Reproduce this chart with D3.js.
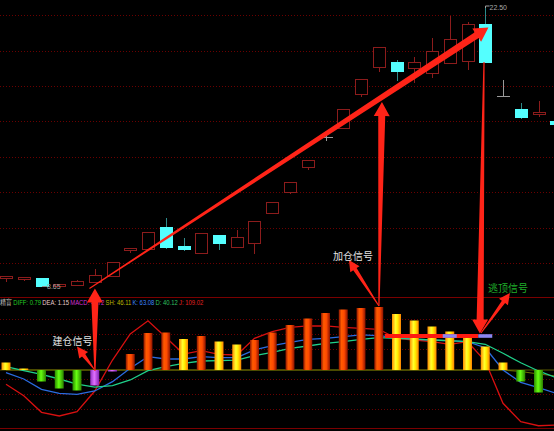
<!DOCTYPE html>
<html>
<head>
<meta charset="utf-8">
<script src="https://cdn.jsdelivr.net/npm/d3@7"></script>
<style>
  body { margin: 0; background: #000; }
  svg { display: block; background: #000; font-family: "Liberation Sans", Arial, sans-serif; }
</style>
</head>
<body>
<svg width="554" height="431"></svg>
<script>
var svg = d3.select("svg"),
    width = +svg.attr("width"),
    height = +svg.attr("height");

// daily candles (price)
var opens  = [9.10, 9.05, 9.10, 8.70, 8.75, 8.90, 9.20, 10.48, 10.53, 11.62, 10.68, 10.33, 11.22, 10.63, 10.83, 12.31,
              13.35, 14.59, 16.07, 16.52, 18.20, 19.53, 19.78, 19.48, 19.24, 19.73, 19.83, 21.66, 18.10, 17.46, 17.21, 16.86];
var highs  = [9.20, 9.15, 9.10, 8.80, 9.00, 9.54, 9.89, 10.58, 11.37, 12.06, 11.08, 11.32, 11.22, 11.47, 11.92, 12.86,
              13.85, 14.93, 16.17, 17.46, 18.94, 20.52, 19.88, 20.03, 20.97, 22.05, 21.76, 22.50, 18.89, 17.75, 17.85, 16.86];
var lows   = [8.90, 8.95, 8.65, 8.70, 8.75, 8.90, 9.20, 10.33, 10.53, 10.53, 10.43, 10.33, 10.48, 10.58, 10.30, 12.31,
              13.25, 14.44, 15.85, 16.52, 18.05, 19.29, 18.84, 18.74, 18.99, 19.73, 19.38, 19.78, 18.10, 16.96, 17.06, 16.71];
var closes = [9.20, 9.15, 8.70, 8.80, 8.95, 9.25, 9.89, 10.58, 11.37, 10.63, 10.53, 11.32, 10.83, 11.13, 11.92, 12.86,
              13.85, 14.93, 16.07, 17.46, 18.94, 20.52, 19.33, 19.78, 20.32, 20.92, 21.66, 19.78, 18.10, 17.06, 17.31, 16.71];

// lower pane: MACD histogram, SH line, KDJ lines
var macd = [0.15, 0.03, -0.23, -0.37, -0.41, -0.31, -0.03, 0.32, 0.74, 0.75, 0.62, 0.68, 0.57, 0.51, 0.60, 0.75,
            0.90, 1.03, 1.14, 1.21, 1.24, 1.26, 1.12, 0.99, 0.87, 0.77, 0.65, 0.47, 0.15, -0.23, -0.45];
var shLine = [0, 0, 0, 0, 0, 0, 0, 0, 0, 0, 0, 0, 0, 0, 0, 0,
              0, 0, 0, 0, 0, 0, 0, 0, 0, 0, 0, 0, 0, -0.03, -0.08, -0.12];
var kLine = [28.4, 20.0, 6.3, 0.9, -0.4, 4.0, 16.4, 34.3, 49.7, 46.7, 46.7, 49.7, 48.4, 48.4, 58.7, 64.4,
             68.9, 72.9, 74.3, 76.4, 78.7, 77.7, 75.1, 73.3, 72.0, 70.7, 69.7, 61.7, 32.0, 15.6, 8.4, 0.9];
var dLine = [36.4, 31.1, 26.3, 20.0, 13.3, 9.3, 11.1, 18.7, 31.1, 36.4, 40.7, 44.0, 44.4, 45.3, 51.1, 55.6,
             60.9, 64.0, 67.6, 69.7, 72.9, 75.1, 74.3, 73.3, 72.0, 71.1, 69.7, 66.3, 54.3, 41.7, 30.7, 21.7];
var jLine = [12.9, -2.3, -24.4, -29.3, -23.6, 4.0, 45.3, 80.0, 97.7, 75.6, 53.3, 57.7, 52.9, 52.0, 74.3, 83.1,
             88.9, 90.7, 90.7, 88.9, 87.6, 86.3, 74.3, 72.0, 69.7, 66.3, 69.7, 44.0, -12.4, -36.9, -42.3, -41.3];

var priceTicks = [9.84, 11.59, 13.34, 15.09, 16.84, 18.59, 20.34, 22.09];
var kdjTicks = [-20, 0, 20, 60, 80, 100];

var legendItems = ["精盲", "DIFF: 0.79", "DEA: 1.15", "MACD: -0.72", "SH: 46.11", "K: 63.08", "D: 40.12", "J: 109.02"];

// hand-drawn signals
var arrows = [
    { size: "big",   from: { i: 4.70,  pane: "price", v: 8.58 },  to: { i: 27.18, pane: "price", v: 21.49 } },
    { size: "big",   from: { i: 5.01,  pane: "macd",  v: -0.02 }, to: { i: 5.01,  pane: "price", v: 8.58 } },
    { size: "small", from: { i: 4.96,  pane: "macd",  v: 0.02 },  to: { i: 4.00,  pane: "macd",  v: 0.47 } },
    { size: "big",   from: { i: 21.01, pane: "macd",  v: 1.28 },  to: { i: 21.18, pane: "price", v: 17.80 } },
    { size: "small", from: { i: 21.01, pane: "macd",  v: 1.28 },  to: { i: 19.32, pane: "price", v: 9.99 } },
    { size: "big",   from: { i: 26.93, pane: "price", v: 19.78 }, to: { i: 26.70, pane: "macd",  v: 0.73 } },
    { size: "small", from: { i: 26.76, pane: "macd",  v: 0.74 },  to: { i: 28.39, pane: "macd",  v: 1.54 } }
];
var signalLabels = [
    { text: "建仓信号", kind: "buy",  at: { i: 3.75,  pane: "macd",  v: 0.60 } },
    { text: "加仓信号", kind: "buy",  at: { i: 19.55, pane: "price", v: 10.21 } },
    { text: "逃顶信号", kind: "sell", at: { i: 28.28, pane: "macd",  v: 1.66 } }
];
var holdBar = { from: 21.35, to: 26.6, v: 0.68 };
var holdMarks = [25, 27];

var pane = { priceBottom: 297, lowerBottom: 428 };

var x = d3.scaleLinear().domain([0, 31]).range([6, 6 + 17.75 * 31]);
var y = d3.scaleLinear().domain([8.65, 22.5]).range([287, 7]);
var ym = d3.scaleLinear().domain([0, 1]).range([370, 320]);
var yk = d3.scaleLinear().domain([-20, 100]).range([409, 319]);

function pt(a) {
    var sy = a.pane === "price" ? y : (a.pane === "macd" ? ym : yk);
    return [x(a.i), sy(a.v)];
}

// gradients for cylinder bars
var defs = svg.append("defs");
var grads = {
    up:   [["0%", "#8a1400"], ["30%", "#ff5a00"], ["60%", "#ff4a00"], ["100%", "#8a1200"]],
    fade: [["0%", "#ff8a00"], ["40%", "#ffff30"], ["62%", "#ffee00"], ["100%", "#ff8000"]],
    down: [["0%", "#2a8a00"], ["45%", "#66ff10"], ["100%", "#2a8000"]],
    rise: [["0%", "#9030c0"], ["45%", "#e070ff"], ["100%", "#8020b0"]]
};
Object.keys(grads).forEach(function (k) {
    var g = defs.append("linearGradient").attr("id", "g-" + k)
        .attr("x1", "0%").attr("x2", "100%").attr("y1", "0%").attr("y2", "0%");
    grads[k].forEach(function (s) { g.append("stop").attr("offset", s[0]).attr("stop-color", s[1]); });
});
defs.append("clipPath").attr("id", "clip-price").append("rect")
    .attr("x", 0).attr("y", 0).attr("width", width).attr("height", pane.priceBottom);
defs.append("clipPath").attr("id", "clip-lower").append("rect")
    .attr("x", 0).attr("y", pane.priceBottom).attr("width", width).attr("height", pane.lowerBottom - pane.priceBottom);

// grids
var priceGrid = svg.append("g")
    .call(d3.axisLeft(y).tickValues(priceTicks).tickSize(-width).tickFormat(""));
priceGrid.select(".domain").remove();
var lowerGrid = svg.append("g")
    .call(d3.axisLeft(yk).tickValues(kdjTicks).tickSize(-width).tickFormat(""));
lowerGrid.select(".domain").remove();
svg.selectAll(".tick line")
    .attr("stroke", "#6a0000")
    .attr("stroke-dasharray", "1,2")
    .attr("shape-rendering", "crispEdges");

svg.append("line").attr("x1", 0).attr("x2", width)
    .attr("y1", pane.priceBottom + 0.5).attr("y2", pane.priceBottom + 0.5)
    .attr("stroke", "#7a0000");
svg.append("line").attr("x1", 0).attr("x2", width)
    .attr("y1", pane.lowerBottom + 0.5).attr("y2", pane.lowerBottom + 0.5)
    .attr("stroke", "#7a0000");

// candles
var candles = svg.append("g").attr("clip-path", "url(#clip-price)");
opens.forEach(function (o, i) {
    var c = closes[i];
    var cx = Math.round(x(i)) + 0.5;
    var col = c > o ? "#8c1c1c" : (c < o ? "#54ffff" : "#9a9a9a");
    var wickCol = c < o ? "#2e8b8b" : col;
    candles.append("line")
        .attr("x1", cx).attr("x2", cx)
        .attr("y1", Math.round(y(highs[i]))).attr("y2", Math.round(y(lows[i])))
        .attr("stroke", wickCol);
    var top = Math.round(y(Math.max(o, c))), bot = Math.round(y(Math.min(o, c)));
    if (c === o) {
        candles.append("line")
            .attr("x1", cx - 6.5).attr("x2", cx + 6.5)
            .attr("y1", top + 0.5).attr("y2", top + 0.5)
            .attr("stroke", col);
    } else {
        candles.append("rect")
            .attr("x", cx - 6).attr("y", top + 0.5)
            .attr("width", 12).attr("height", Math.max(1, bot - top))
            .attr("fill", c > o ? "#000" : col)
            .attr("stroke", col);
    }
});

// extreme price tags
var hiIdx = d3.maxIndex(highs), loIdx = d3.minIndex(lows);
var hx = Math.round(x(hiIdx)) + 0.5, hy = Math.round(y(highs[hiIdx]));
candles.append("path").attr("d", "M" + hx + "," + (hy + 1) + "V" + (hy - 1) + "H" + (hx + 4))
    .attr("fill", "none").attr("stroke", "#a0a0a0");
candles.append("text").attr("x", hx + 4).attr("y", hy + 3)
    .attr("font-size", 7).attr("fill", "#a8a8a8").text(d3.format(".2f")(highs[hiIdx]));
var lx = Math.round(x(loIdx)), ly = Math.round(y(lows[loIdx]));
candles.append("path").attr("d", "M" + lx + "," + (ly - 0.5) + "h5")
    .attr("fill", "none").attr("stroke", "#909090");
candles.append("text").attr("x", lx + 5).attr("y", ly + 2)
    .attr("font-size", 7).attr("fill", "#a0a0a0").text(d3.format(".2f")(lows[loIdx]));

// lower pane
var lower = svg.append("g").attr("clip-path", "url(#clip-lower)");
lower.append("line").attr("x1", 0).attr("x2", width)
    .attr("y1", ym(0)).attr("y2", ym(0))
    .attr("stroke", "#5a5a00");
lower.append("path").datum(shLine)
    .attr("fill", "none").attr("stroke", "#6b6b00").attr("stroke-width", 1.2)
    .attr("d", d3.line().x(function (d, i) { return x(i); }).y(function (d) { return ym(d); }));

var kdj = [[jLine, "#d81010"], [kLine, "#2a6be0"], [dLine, "#1fd08a"]];
kdj.forEach(function (s) {
    lower.append("path").datum(s[0])
        .attr("fill", "none").attr("stroke", s[1]).attr("stroke-width", 1.3)
        .attr("d", d3.line().x(function (d, i) { return x(i); }).y(function (d) { return yk(d); }));
});

lower.selectAll("rect.bar").data(macd).enter().append("rect")
    .attr("class", "bar")
    .attr("x", function (d, i) { return x(i) - 4.5; })
    .attr("width", 9)
    .attr("y", function (d) { return ym(Math.max(d, 0)); })
    .attr("height", function (d) { return Math.max(1, Math.abs(ym(d) - ym(0))); })
    .attr("fill", function (d, i) {
        var prev = i > 0 ? macd[i - 1] : null;
        if (d >= 0) return "url(#g-" + (prev !== null && d > prev ? "up" : "fade") + ")";
        return "url(#g-" + (prev !== null && d > prev ? "rise" : "down") + ")";
    });

// legend line
var legendColors = ["#c0c0c0", "#22cc22", "#e6cccc", "#d030d0", "#b8b800", "#3f86ff", "#2fc060", "#e02020"];
var legend = svg.append("g").attr("transform", "translate(0,305) scale(0.74,1)");
var lx0 = 0;
legendItems.forEach(function (t, i) {
    var tx = legend.append("text").attr("x", lx0).attr("y", 0)
        .attr("font-size", 8).attr("fill", legendColors[i]).text(t);
    lx0 += tx.node().getComputedTextLength() + (i === 0 ? 2 : 1.5);
});

// annotations
function arrowPoly(p0, p1, w0, w1, headLen, headHalf) {
    var dx = p1[0] - p0[0], dy = p1[1] - p0[1], L = Math.hypot(dx, dy);
    var ux = dx / L, uy = dy / L, nx = -uy, ny = ux;
    var bx = p1[0] - ux * headLen, by = p1[1] - uy * headLen;
    return [
        [p0[0] + nx * w0 / 2, p0[1] + ny * w0 / 2],
        [bx + nx * w1 / 2, by + ny * w1 / 2],
        [bx + nx * headHalf, by + ny * headHalf],
        p1,
        [bx - nx * headHalf, by - ny * headHalf],
        [bx - nx * w1 / 2, by - ny * w1 / 2],
        [p0[0] - nx * w0 / 2, p0[1] - ny * w0 / 2]
    ];
}
var arrowSize = {
    big:   { w0: 1.2, w1: 7, head: 14, half: 8 },
    small: { w0: 1, w1: 4, head: 11, half: 5.5 }
};

var notes = svg.append("g");
notes.append("line")
    .attr("x1", x(holdBar.from)).attr("x2", x(holdBar.to))
    .attr("y1", ym(holdBar.v)).attr("y2", ym(holdBar.v))
    .attr("stroke", "#ff1a10").attr("stroke-width", 4);

arrows.forEach(function (a) {
    var s = arrowSize[a.size];
    notes.append("polygon")
        .attr("points", arrowPoly(pt(a.from), pt(a.to), s.w0, s.w1, s.head, s.half).join(" "))
        .attr("fill", "#ff2418");
});

notes.selectAll("rect.mark").data(holdMarks).enter().append("rect")
    .attr("class", "mark")
    .attr("x", function (d) { return x(d) - 7; })
    .attr("y", ym(holdBar.v) - 1.8)
    .attr("width", 14).attr("height", 3.6)
    .attr("fill", "#8a86f0");

signalLabels.forEach(function (l) {
    var p = pt(l.at);
    notes.append("text")
        .attr("x", p[0]).attr("y", p[1])
        .attr("text-anchor", "middle")
        .attr("dominant-baseline", "central")
        .attr("font-family", "'Noto Sans CJK SC', sans-serif")
        .attr("font-size", 10)
        .attr("fill", l.kind === "buy" ? "#e4e4e4" : "#1fae2a")
        .text(l.text);
});
</script>
</body>
</html>
